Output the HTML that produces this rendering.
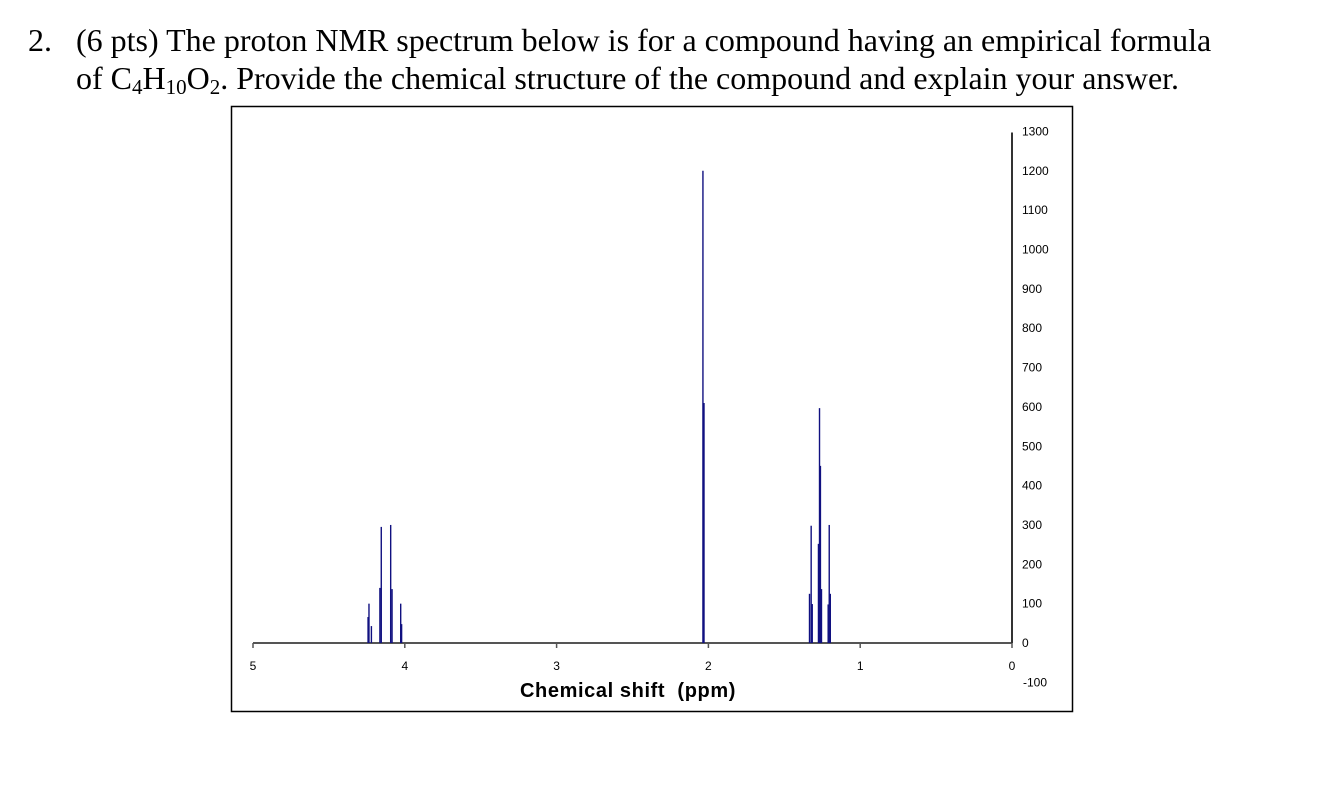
<!DOCTYPE html>
<html><head><meta charset="utf-8"><style>
body{margin:0;background:#fff;width:1334px;height:806px;overflow:hidden;position:relative;font-family:"Liberation Serif",serif}
.q{position:absolute;left:28px;font-size:32px;color:#000;white-space:nowrap;line-height:1}
sub{font-size:21px;vertical-align:-5px;line-height:0}
</style></head><body>
<div class="q" style="top:24px">2.&nbsp;&nbsp;&nbsp;(6 pts) The proton NMR spectrum below is for a compound having an empirical formula</div>
<div class="q" style="top:62px;left:76px">of C<sub>4</sub>H<sub>10</sub>O<sub>2</sub>. Provide the chemical structure of the compound and explain your answer.</div>
<svg id="chart" width="1334" height="806" style="position:absolute;left:0;top:0" font-family="Liberation Sans, sans-serif"></svg>
<script>
const ppmTicks=[5,4,3,2,1,0];
const yTicks=[1300,1200,1100,1000,900,800,700,600,500,400,300,200,100,0,-100];
const peakPpm=[4.242,4.236,4.220,4.164,4.155,4.093,4.084,4.027,4.021,2.036,2.029,1.334,1.323,1.316,1.275,1.268,1.262,1.255,1.211,1.204,1.197];
const peakHeight=[66,100,43,140,295,300,137,100,48,1200,610,125,298,99,252,597,450,137,98,300,125];
const NS='http://www.w3.org/2000/svg';
const svg=document.getElementById('chart');
const X=p=>1012-p*151.8;
const Y=v=>643-v*0.3935;
function mk(t,a){const e=document.createElementNS(NS,t);for(const k in a)e.setAttribute(k,a[k]);svg.appendChild(e);return e;}
let e=mk('rect',{x:231.5,y:106.5,width:841,height:605,fill:'none',stroke:'#000','stroke-width':1.5});


e=mk('line',{x1:X(5),y1:Y(0),x2:X(0),y2:Y(0),stroke:'#555','stroke-width':2});


e=mk('line',{x1:X(0),y1:Y(0),x2:X(0),y2:Y(1300)+1,stroke:'#333','stroke-width':2});


ppmTicks.forEach(p=>{
 e=mk('line',{x1:X(p),y1:Y(0),x2:X(p),y2:Y(0)+5,stroke:'#555','stroke-width':1.5});
 
 
 e=mk('text',{x:X(p),y:Y(0)+27,'font-size':12,'text-anchor':'middle',fill:'#000'});
 e.textContent=p;
 
 
});
yTicks.forEach(v=>{
 e=mk('text',{x:v<0?1023:1022,y:Y(v)+4,'font-size':12,fill:'#000'});
 e.textContent=v;
 
 
});
peakPpm.forEach((p,i)=>{
 e=mk('line',{x1:X(p),y1:Y(0),x2:X(p),y2:Y(peakHeight[i]),stroke:'#101080','stroke-width':1.4});
 
 
});
e=mk('text',{x:628,y:697,'font-size':20,'font-weight':'bold','text-anchor':'middle',fill:'#000',style:'white-space:pre','letter-spacing':'0.6'});
e.textContent='Chemical shift  (ppm)';


</script>
</body></html>
